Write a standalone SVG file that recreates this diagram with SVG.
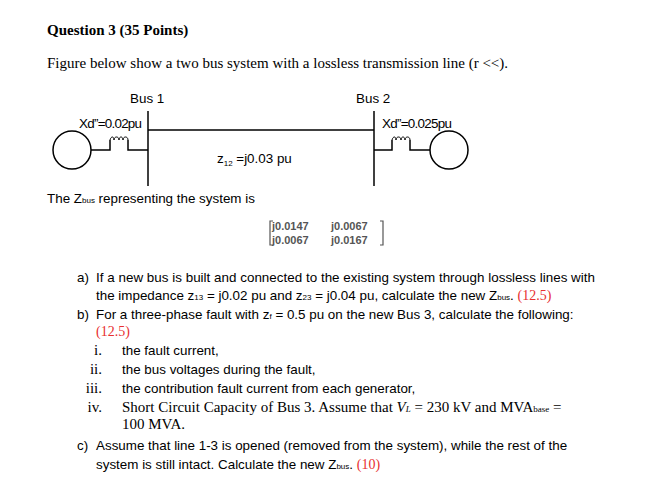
<svg xmlns="http://www.w3.org/2000/svg" width="663" height="479" viewBox="0 0 663 479">
<style>
.s{font-family:"Liberation Sans",Arial,sans-serif;font-size:13.4px;fill:#000}
.t{font-family:"Liberation Serif","Times New Roman",serif;fill:#000}
.r{font-family:"Liberation Serif","Times New Roman",serif;fill:#e8302f;font-size:14px}
.w{stroke:#000;stroke-width:1.5;fill:none}
.m{font-family:"Liberation Sans",Arial,sans-serif;font-size:11px;fill:#555;font-weight:bold}
</style>
<rect width="663" height="479" fill="#fff"/>
<text class="t" x="47" y="35" font-size="15" font-weight="bold">Question 3 (35 Points)</text>
<text class="t" x="47" y="68" font-size="15">Figure below show a two bus system with a lossless transmission line (r &lt;&lt;).</text>
<g id="bus1"><line class="w" x1="148" y1="111" x2="148" y2="186"/><text class="s" x="130" y="103">Bus 1</text></g>
<g id="bus2"><line class="w" x1="374" y1="111" x2="374" y2="186"/><text class="s" x="356" y="103">Bus 2</text></g>
<g id="gen1"><circle class="w" cx="72" cy="150" r="19"/>
<path class="w" d="M91 150H110V140M128 140V150H148"/>
<path d="M110 140c1-4 4-4 4 0c0-4 5-4 5 0c0-4 4-4 4 0c0-4 5-4 5 0" stroke="#000" fill="none" stroke-width="1"/>
<text class="s" x="79" y="128" font-size="11" textLength="63">Xd”=0.02pu</text></g>
<g id="gen2"><circle class="w" cx="449" cy="150" r="19"/>
<path class="w" d="M374 150H392V140M410 140V150H430"/>
<path d="M392 140c1-4 4-4 4 0c0-4 5-4 5 0c0-4 4-4 4 0c0-4 5-4 5 0" stroke="#000" fill="none" stroke-width="1"/>
<text class="s" x="382" y="128" font-size="11" textLength="70">Xd”=0.025pu</text></g>
<g id="connectors"><line class="w" x1="148" y1="130" x2="374" y2="130"/></g>
<text class="s" x="217" y="163">z<tspan font-size="8" dy="3">12</tspan><tspan dy="-3"> =j0.03 pu</tspan></text>
<text class="s" x="47" y="203">The Z<tspan font-size="8">bus</tspan> representing the system is</text>
<g id="matrix">
<path d="M273 221h-3v24h3M380 221h3v24h-3" stroke="#555" fill="none" stroke-width="1.2"/>
<text class="m" x="272" y="230">j0.0147</text><text class="m" x="331" y="230">j0.0067</text>
<text class="m" x="272" y="244">j0.0067</text><text class="m" x="331" y="244">j0.0167</text>
</g>
<g class="s">
<text x="77" y="282">a)</text><text x="96" y="282" textLength="499">If a new bus is built and connected to the existing system through lossless lines with</text>
<text x="96" y="300">the impedance z<tspan font-size="8">13</tspan> = j0.02 pu and z<tspan font-size="8">23</tspan> = j0.04 pu, calculate the new Z<tspan font-size="8">bus</tspan>. <tspan class="r">(12.5)</tspan></text>
<text x="77" y="319">b)</text><text x="96" y="319">For a three-phase fault with z<tspan font-size="8">f</tspan> = 0.5 pu on the new Bus 3, calculate the following:</text>
<text class="r" x="96" y="336">(12.5)</text>
<text class="t" font-size="15" x="102" y="355" text-anchor="end">i.</text><text x="122" y="355">the fault current,</text>
<text class="t" font-size="15" x="102" y="374" text-anchor="end">ii.</text><text x="122" y="374">the bus voltages during the fault,</text>
<text class="t" font-size="15" x="102" y="393" text-anchor="end">iii.</text><text x="122" y="393">the contribution fault current from each generator,</text>
<text class="t" font-size="15" x="102" y="412" text-anchor="end">iv.</text>
<text class="t" font-size="15" x="122" y="412">Short Circuit Capacity of Bus 3. Assume that <tspan font-style="italic">V<tspan font-size="9">L</tspan></tspan> = 230 kV and MVA<tspan font-size="9">base</tspan> =</text>
<text class="t" font-size="15" x="122" y="429">100 MVA.</text>
<text x="77" y="450">c)</text><text x="96" y="450">Assume that line 1-3 is opened (removed from the system), while the rest of the</text>
<text x="96" y="469">system is still intact. Calculate the new Z<tspan font-size="8">bus</tspan>. <tspan class="r">(10)</tspan></text>
</g>
</svg>
